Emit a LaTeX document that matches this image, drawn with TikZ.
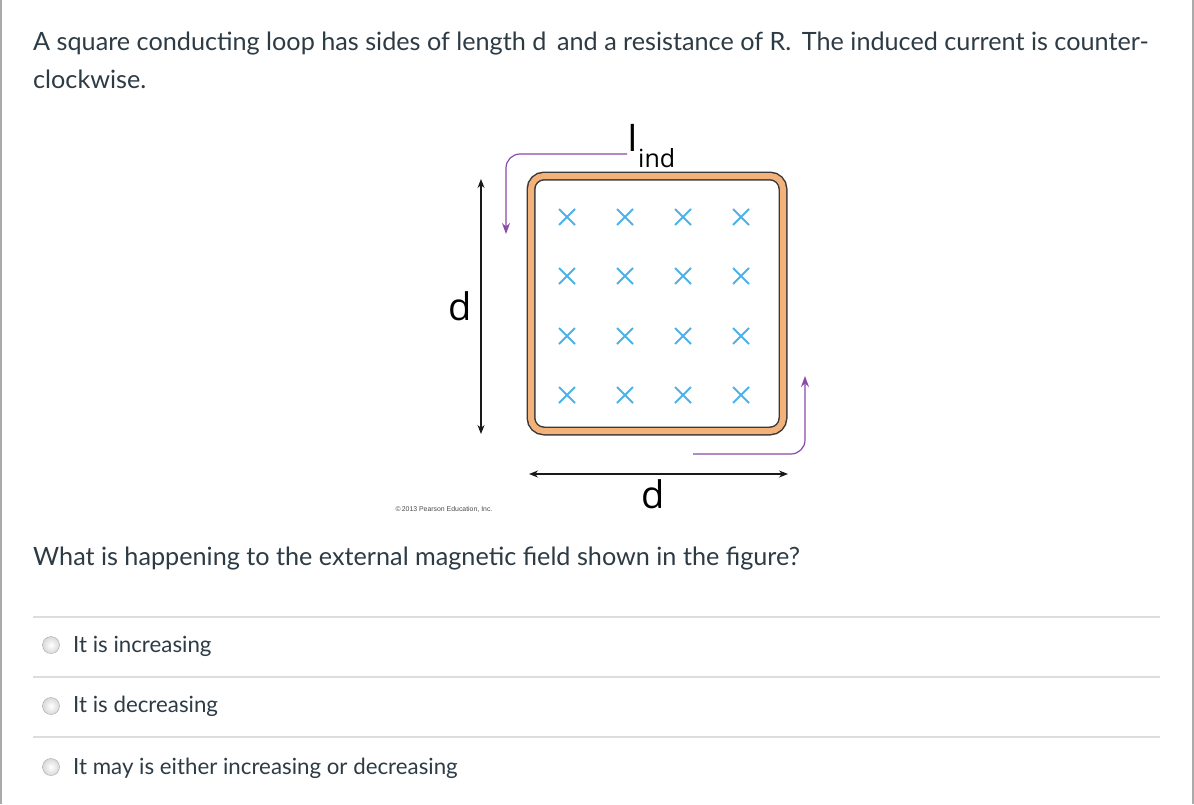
\documentclass[tikz,border=0pt]{standalone}
\usepackage{fontspec}
\setmainfont{Lato}
\newfontfamily\figfont{Open Sans}
\newfontfamily\credfont{Liberation Sans}
\usetikzlibrary{arrows.meta,positioning}
\definecolor{canvastext}{HTML}{2D3B45}
\definecolor{wireorange}{HTML}{F2B27A}
\definecolor{wireedge}{HTML}{3A3A3A}
\definecolor{fieldblue}{HTML}{4CB2E8}
\definecolor{indpurple}{HTML}{8A4BA8}
\definecolor{rulegray}{HTML}{DDDDDD}
\definecolor{framegray}{HTML}{AAAAAA}
\tikzset{
    %Define standard arrow tip
    >={Stealth[length=9pt,width=7pt]},
    %Define style for question text
    qtext/.style={
           anchor=base west,
           inner sep=0pt,
           text=canvastext,
           font=\fontsize{25.2}{30}\selectfont},
    %Define style for answer text
    atext/.style={
           anchor=base west,
           inner sep=0pt,
           text=canvastext,
           font=\fontsize{22.3}{26}\selectfont},
    % Define style for radio buttons
    radio/.style={
           circle,
           draw=black!35, thin,
           inner color=white, outer color=black!15,
           minimum size=17pt,
           inner sep=0pt},
    % Define style for dimension arrows
    dim/.style={
           <->,
           line width=1.1pt,
           black!90}
}
\begin{document}
\begin{tikzpicture}[x=1pt,y=-1pt,
lbl/.style={inner sep=0pt, font=\figfont\fontsize{38}{40}\selectfont},
bfield/.style={fieldblue, line width=1.8pt},
ipil/.style={-{Stealth[length=11pt,width=8pt]}, indpurple, line width=1.2pt, rounded corners=14pt},
sep/.style={rulegray, line width=1.6pt}
]
\useasboundingbox (0,0) rectangle (1194,804);
\fill[white] (0,0) rectangle (1194,804);
\draw[framegray, line width=2pt] (1,0) -- (1,804);
\draw[framegray, line width=2pt] (1193,0) -- (1193,804);
%Question
\node[qtext] (line1) at (33,50) {A square conducting loop has sides of length d\, and a resistance of R.\, The induced current is counter-};
\node[qtext] (line2) at (33,88) {clockwise.};
%Loop
\draw[wireedge, line width=9pt, rounded corners=13pt] (531,176) rectangle (783,431);
\draw[wireorange, line width=6pt, rounded corners=13pt] (531,176) rectangle (783,431);
\foreach \x in {567,625,683,741}
  \foreach \y in {217,276,336,395}
    \draw[bfield] (\x-8,\y-8) -- (\x+8,\y+8) (\x-8,\y+8) -- (\x+8,\y-8);
%Dimensions
\coordinate (dtop) at (481,179);
\coordinate (dbot) at (481,434);
\draw[dim] (dtop) -- (dbot);
\node[lbl, anchor=base] (dleft) at (460,320) {d};
\coordinate (dlft) at (529,474);
\coordinate (drgt) at (788,474);
\draw[dim] (dlft) -- (drgt);
\node[lbl, anchor=base] (dbottom) at (653,508) {d};
%Induced current
\node[lbl, anchor=base west] (iname) at (627,151) {I};
\node[inner sep=0pt, anchor=base west, font=\figfont\fontsize{25}{27}\selectfont] (isub) at (638,167) {ind};
\coordinate (itop) at (506,234);
\draw[ipil] (iname.west |- 0,154) -- (506,154) -- (itop);
\coordinate (ibot) at (805,376);
\draw[ipil] (693,454) -- (805,454) -- (ibot);
\node[inner sep=0pt, text=black!70, font=\credfont\fontsize{6.9}{7}\selectfont] (credit) at (444,509) {\textcopyright\,2013 Pearson Education, Inc.};
%Question 2
\node[qtext] (line3) at (33,565) {What is happening to the external magnetic field shown in the figure?};
\foreach \y in {617,677,737}
  \draw[sep] (33,\y) -- (1160,\y);
%Answers
\node[radio] (r1) at (51,645) {};
\node[atext] (a1) at (73,652) {It is increasing};
\node[radio] (r2) at (51,706) {};
\node[atext] (a2) at (73,712) {It is decreasing};
\node[radio] (r3) at (51,767) {};
\node[atext] (a3) at (73,774) {It may is either increasing or decreasing};
\end{tikzpicture}
\end{document}
